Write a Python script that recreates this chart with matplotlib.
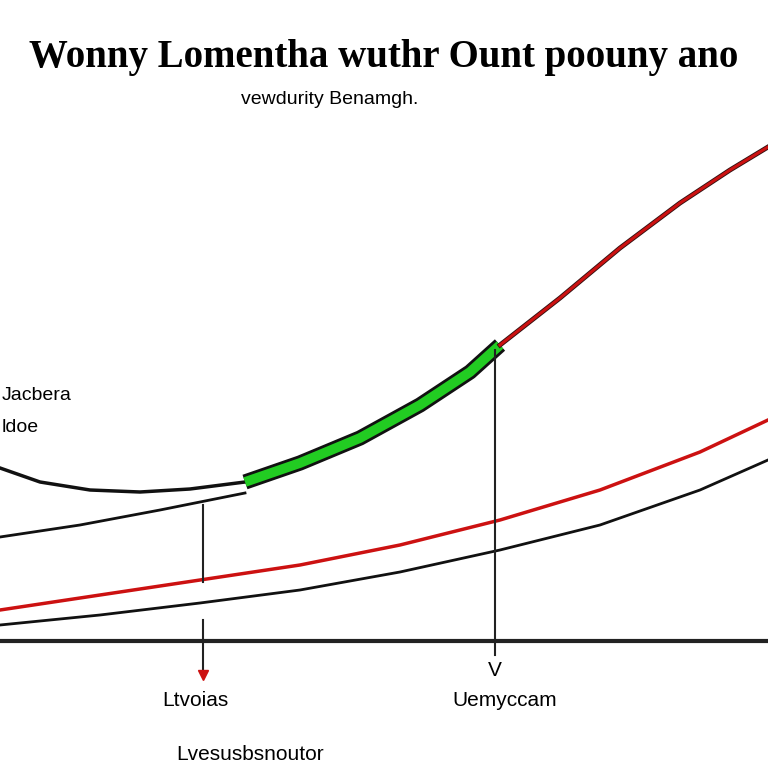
import matplotlib.pyplot as plt

# curve points (pixel space, y down)
upper_black_x = [0, 40, 90, 140, 190, 245]
upper_black_y = [468, 482, 490, 492, 489, 482]
green_x = [245, 300, 360, 420, 470, 500]
green_y = [482, 463, 438, 405, 372, 345]
upper_red_x = [500, 560, 620, 680, 730, 768]
upper_red_y = [345, 298, 248, 203, 170, 147]

mid_black_x = [0, 80, 160, 245]
mid_black_y = [537, 525, 510, 493]

low_red_x = [0, 100, 200, 300, 400, 500, 600, 700, 768]
low_red_y = [610, 595, 580, 565, 545, 520, 490, 452, 420]
low_black_x = [0, 100, 200, 300, 400, 500, 600, 700, 768]
low_black_y = [625, 615, 603, 590, 572, 550, 525, 490, 460]

fig = plt.figure(figsize=(7.68, 7.68), dpi=100)
ax = fig.add_axes([0, 0, 1, 1])
ax.set_xlim(0, 768)
ax.set_ylim(768, 0)
ax.axis('off')

ax.plot(upper_black_x, upper_black_y, color='#111111', lw=2.5)
ax.plot(green_x, green_y, color='#111111', lw=11, solid_capstyle='butt')
ax.plot(green_x, green_y, color='#22cc22', lw=7, solid_capstyle='butt')
ax.plot(upper_red_x, upper_red_y, color='#331111', lw=3.5)
ax.plot(upper_red_x, upper_red_y, color='#cc1111', lw=2.2)
ax.plot(mid_black_x, mid_black_y, color='#111111', lw=2)
ax.plot(low_red_x, low_red_y, color='#cc1111', lw=2.5)
ax.plot(low_black_x, low_black_y, color='#111111', lw=2)

# axis and markers
ax.plot([0, 768], [641, 641], color='#222222', lw=3)
ax.plot([203, 203], [505, 582], color='#222222', lw=1.5)
ax.plot([203, 203], [620, 672], color='#222222', lw=1.5)
ax.plot([203], [675], marker='v', color='#cc1111', ms=7)
ax.plot([495, 495], [350, 655], color='#222222', lw=1.5)

serif = 'Liberation Serif'
sans = 'Liberation Sans'
ax.text(384, 58, 'Wonny Lomentha wuthr Ount poouny ano', ha='center', va='center',
        fontsize=28, family=serif, weight='bold')
ax.text(330, 100, 'vewdurity Benamgh.', ha='center', va='center', fontsize=14, family=sans)
ax.text(2, 396, 'Jacbera', ha='left', va='center', fontsize=14, family=sans)
ax.text(2, 428, 'ldoe', ha='left', va='center', fontsize=14, family=sans)
ax.text(195, 700, 'Ltvoias', ha='center', va='center', fontsize=15, family=sans)
ax.text(495, 670, 'V', ha='center', va='center', fontsize=15, family=sans)
ax.text(505, 700, 'Uemyccam', ha='center', va='center', fontsize=15, family=sans)
ax.text(250, 755, 'Lvesusbsnoutor', ha='center', va='center', fontsize=15, family=sans)

fig.savefig('out.png', dpi=100)
